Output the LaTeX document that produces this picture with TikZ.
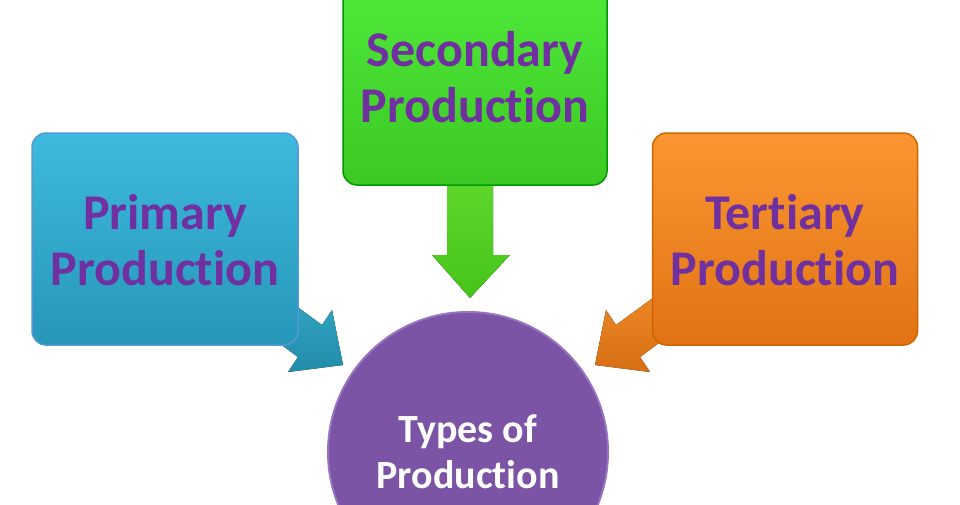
\documentclass[tikz,border=0pt]{standalone}
\usepackage{fontspec}
\setmainfont[Ligatures=NoCommon]{Carlito}
\begin{document}
\begin{tikzpicture}[x=1pt,y=-1pt,
  boxtxt/.style={font=\bfseries\fontsize{50}{56}\selectfont, align=center},
]
\definecolor{tp}{HTML}{7030A0}
\useasboundingbox (0,0) rectangle (960,504);
\clip (0,0) rectangle (960,504);
% arrows
\fill[top color={rgb,255:red,50;green,170;blue,200}, bottom color={rgb,255:red,35;green,140;blue,170}] (238,313) -- (262,281) -- (322,325) -- (332,310) -- (343,365) -- (288,372) -- (298,357) -- cycle;
\fill[top color={rgb,255:red,240;green,140;blue,40}, bottom color={rgb,255:red,215;green,110;blue,20}] (700,313) -- (676,281) -- (616,325) -- (606,310) -- (595,365) -- (650,372) -- (640,357) -- cycle;
\fill[top color={rgb,255:red,95;green,215;blue,45}, bottom color={rgb,255:red,70;green,195;blue,25}] (447,180) -- (493,180) -- (493,255) -- (510,255) -- (470,298) -- (432,255) -- (447,255) -- cycle;
% boxes
\node[draw=cyan!60!blue!70, line width=1.5, rounded corners=14, top color={rgb,255:red,62;green,186;blue,222}, bottom color={rgb,255:red,38;green,150;blue,185}, minimum width=266, minimum height=212, inner sep=0] (p) at (165,239) {};
\node[boxtxt, text=tp] (pt) at (165,240) {Primary\\Production};
\node[draw=green!60!black, line width=1.5, rounded corners=14, top color={rgb,255:red,80;green,235;blue,60}, bottom color={rgb,255:red,60;green,200;blue,35}, minimum width=264, minimum height=210, inner sep=0] (s) at (475,80) {};
\node[boxtxt, text=tp] (st) at (475,77) {Secondary\\Production};
\node[draw=orange!80!black, line width=1.5, rounded corners=14, top color={rgb,255:red,250;green,150;blue,50}, bottom color={rgb,255:red,225;green,115;blue,20}, minimum width=265, minimum height=212, inner sep=0] (t) at (785,239) {};
\node[boxtxt, text=tp] (tt) at (785,240) {Tertiary\\Production};
% circle
\node[circle, fill={rgb,255:red,123;green,84;blue,165}, draw={rgb,255:red,150;green,115;blue,190}, line width=2, minimum size=280, inner sep=0] (c) at (468,452) {};
\node[text=white, font=\bfseries\fontsize{40}{46}\selectfont, align=center] (ct) at (468,452) {Types of\\Production};
\end{tikzpicture}
\end{document}
